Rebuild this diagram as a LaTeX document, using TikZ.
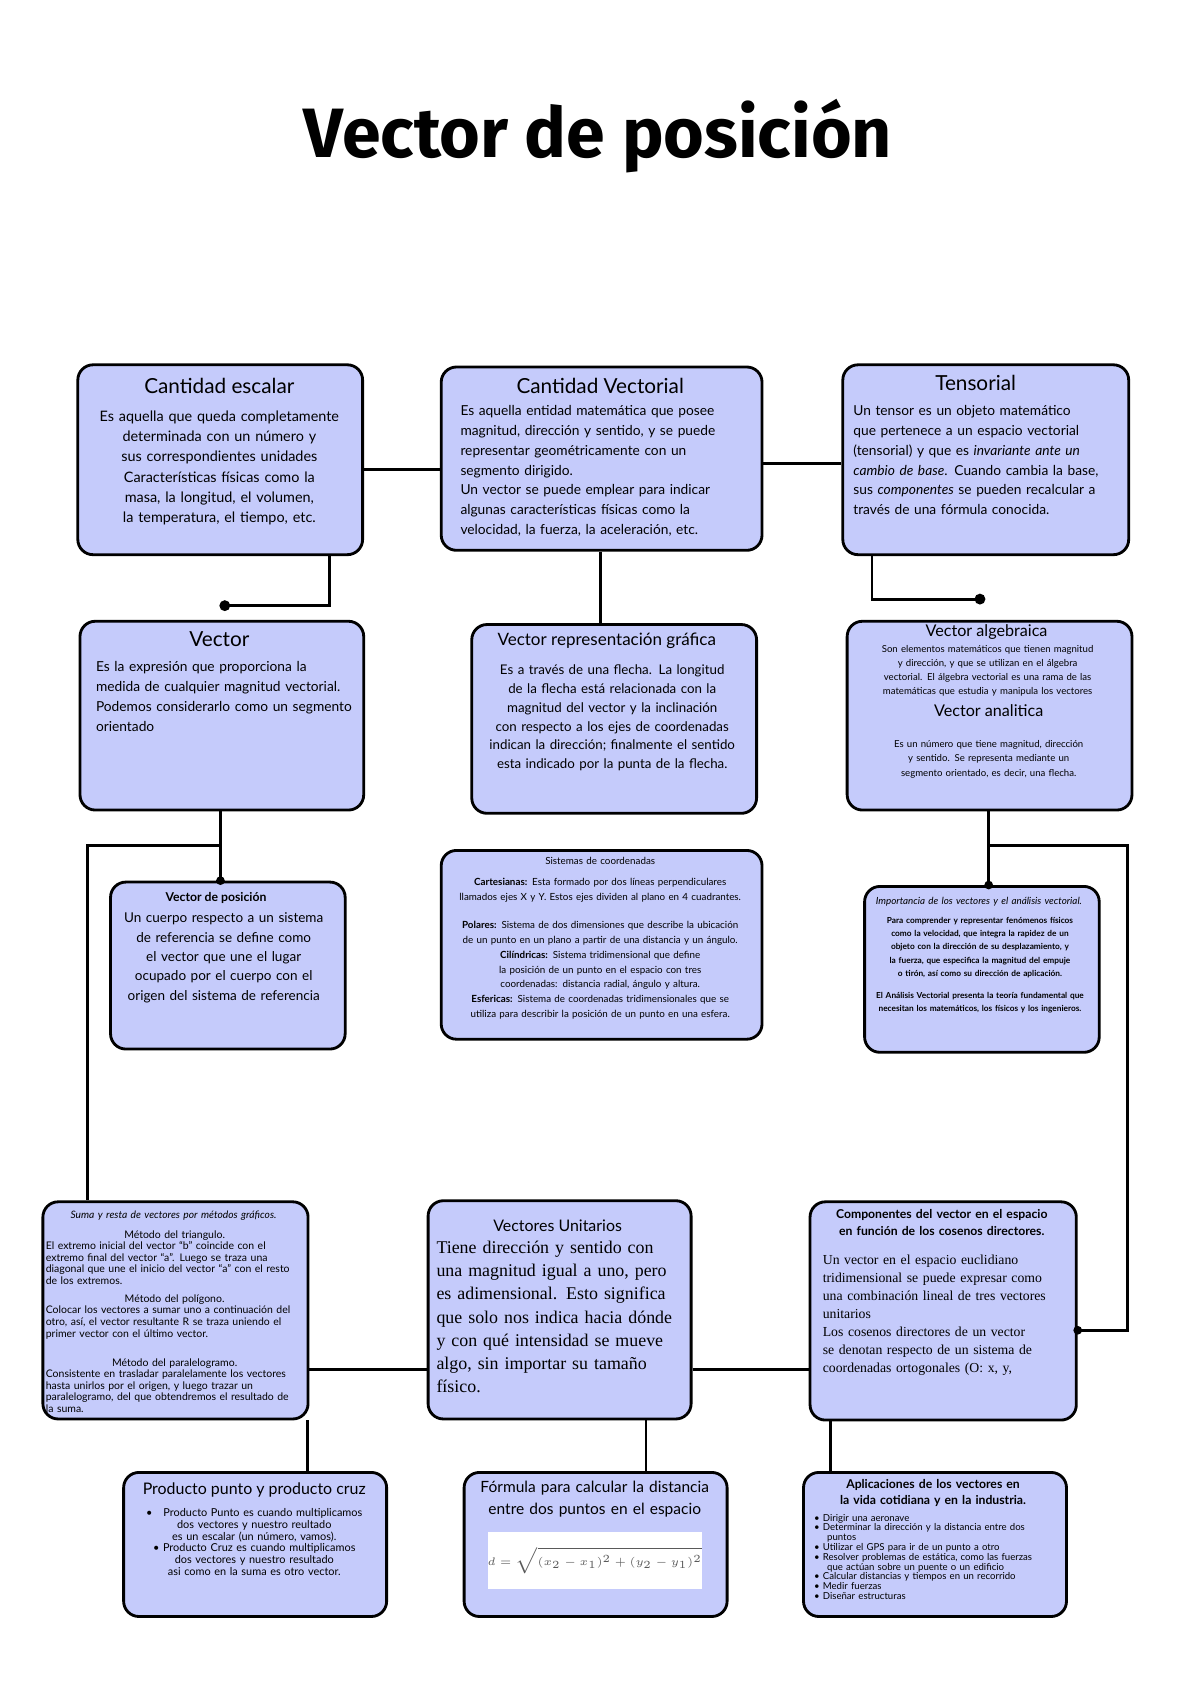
\documentclass[tikz,border=0pt]{standalone}
\usepackage{fontspec}
\setmainfont{Lato}
\newfontfamily\serifo{Liberation Serif}
\newfontfamily\titlef{Fira Sans}
\newcommand{\fs}[2]{\fontsize{#1}{#2}\selectfont}
\hyphenpenalty=10000
\exhyphenpenalty=10000
\begin{document}
\begin{tikzpicture}[x=0.5pt,y=-0.5pt,
  box/.style={draw=black,line width=1.3pt,rounded corners=7pt,fill=boxc,anchor=north west,inner sep=0pt},
  ln/.style={line width=1.3pt},
  dot/.style={circle,fill=black,inner sep=0pt,minimum size=5pt},
  tx/.style={anchor=north,align=center,inner sep=0pt}]
\definecolor{boxc}{HTML}{C5CBFB}
\useasboundingbox[fill=white] (0,0) rectangle (1100,1556);
\node[anchor=center] (title) at (548,125) {\titlef\bfseries\fs{32}{36}Vector de posición};
% boxes
\node[box,minimum width=130.5pt,minimum height=87pt] (esc) at (70,333) {};
\node[box,minimum width=147pt,minimum height=84pt] (vec) at (403,335) {};
\node[box,minimum width=131pt,minimum height=87pt] (ten) at (771,333) {};
\node[box,minimum width=130pt,minimum height=86.5pt] (vv) at (72,568) {};
\node[box,minimum width=130.5pt,minimum height=86.5pt] (rep) at (431,571) {};
\node[box,minimum width=130.5pt,minimum height=86.5pt] (alg) at (775,568) {};
\node[box,minimum width=107.5pt,minimum height=76.5pt] (pos) at (100,807) {};
\node[box,minimum width=147pt,minimum height=86.5pt] (sis) at (403,778) {};
\node[box,minimum width=107.5pt,minimum height=76pt] (imp) at (791,811) {};
\node[box,minimum width=121.5pt,minimum height=99.5pt] (sum) at (38,1100) {};
\node[box,minimum width=120.5pt,minimum height=100pt] (uni) at (391,1099) {};
\node[box,minimum width=122pt,minimum height=100pt] (com) at (741,1100) {};
\node[box,minimum width=120.5pt,minimum height=66pt] (pro) at (112,1348) {};
\node[box,minimum width=120.5pt,minimum height=66pt] (for) at (424,1348) {};
\node[box,minimum width=120.5pt,minimum height=66pt] (apl) at (735,1348) {};
% texts
\node[tx,font=\fs{9.5}{11}] (t1) at (201,346) {Cantidad escalar};
\node[tx,text width=121pt,font=\fs{6.6}{9.3}] (b1) at (201,376) {Es aquella que queda completamente determinada con un número y sus correspondientes unidades Características físicas como la masa, la longitud, el volumen, la temperatura, el tiempo, etc.};
\node[tx,font=\fs{9.5}{11}] (t2) at (550,346) {Cantidad Vectorial};
\node[tx,text width=128pt,align=left,font=\fs{6.3}{9.1}] (b2) at (550,371) {Es aquella entidad matemática que posee magnitud, dirección y sentido, y se puede representar geométricamente con un segmento dirigido.\\ Un vector se puede emplear para indicar algunas características físicas como la velocidad, la fuerza, la aceleración, etc.};
\node[tx,font=\fs{9.5}{11}] (t3) at (894,343) {Tensorial};
\node[tx,text width=118pt,align=left,font=\fs{6.3}{9.1}] (b3) at (900,371) {Un tensor es un objeto matemático que pertenece a un espacio vectorial (tensorial) y que es \textit{invariante ante un cambio de base}. Cuando cambia la base, sus \textit{componentes} se pueden recalcular a través de una fórmula conocida.};
\node[tx,font=\fs{9.5}{11}] (t4) at (201,578) {Vector};
\node[tx,text width=118pt,align=left,font=\fs{6.3}{9.1}] (b4) at (206,606) {Es la expresión que proporciona la medida de cualquier magnitud vectorial. Podemos considerarlo como un segmento orientado};
\node[tx,font=\fs{7.8}{9}] (t5) at (556,580) {Vector representación gráfica};
\node[tx,text width=115pt,font=\fs{6.1}{8.6}] (b5) at (561,609) {Es a través de una flecha. La longitud de la flecha está relacionada con la magnitud del vector y la inclinación con respecto a los ejes de coordenadas indican la dirección; finalmente el sentido esta indicado por la punta de la flecha.};
\node[tx,font=\fs{7.4}{9}] (t6) at (904,572) {Vector algebraica};
\node[tx,text width=122pt,font=\fs{4.4}{6.4}] (b6) at (905,591) {Son elementos matemáticos que tienen magnitud y dirección, y que se utilizan en el álgebra vectorial. El álgebra vectorial es una rama de las matemáticas que estudia y manipula los vectores};
\node[tx,font=\fs{7.4}{9}] (t7) at (906,645) {Vector analitica};
\node[tx,text width=122pt,font=\fs{4.4}{6.6}] (b7) at (906,678) {Es un número que tiene magnitud, dirección y sentido. Se representa mediante un segmento orientado, es decir, una flecha.};
\node[tx,font=\fs{5.6}{7}\bfseries] (t8) at (198,817) {Vector de posición};
\node[tx,text width=96pt,font=\fs{6.2}{8.9}] (b8) at (205,836) {Un cuerpo respecto a un sistema de referencia se define como el vector que une el lugar ocupado por el cuerpo con el origen del sistema de referencia};
\node[tx,text width=140pt,font=\fs{4.5}{6.8}] (b9) at (550,785) {Sistemas de coordenadas\\[3pt]
\textbf{Cartesianas:} Esta formado por dos líneas perpendiculares llamados ejes X y Y. Estos ejes dividen al plano en 4 cuadrantes.\\[6pt]
\textbf{Polares:} Sistema de dos dimensiones que describe la ubicación de un punto en un plano a partir de una distancia y un ángulo.\\
\textbf{Cilíndricas:} Sistema tridimensional que define la posición de un punto en el espacio con tres coordenadas: distancia radial, ángulo y altura.\\
\textbf{Esfericas:} Sistema de coordenadas tridimensionales que se utiliza para describir la posición de un punto en una esfera.};
\node[tx,text width=105pt,font=\fs{4.5}{6.5}\itshape] (t10) at (897,822) {Importancia de los vectores y el análisis vectorial.};
\node[tx,text width=96pt,font=\fs{3.8}{6.1}\bfseries] (b10) at (898,840) {Para comprender y representar fenómenos físicos como la velocidad, que integra la rapidez de un objeto con la dirección de su desplazamiento, y la fuerza, que especifica la magnitud del empuje o tirón, así como su dirección de aplicación.\\[4pt]
El Análisis Vectorial presenta la teoría fundamental que necesitan los matemáticos, los físicos y los ingenieros.};
\node[tx,text width=118pt,font=\fs{4.7}{5.5}\itshape] (t11) at (159,1109) {Suma y resta de vectores por métodos gráficos.};
\node[tx,text width=118pt,align=left,font=\fs{4.8}{5.3}] (b11) at (160,1127) {\centerline{Método del triangulo.}
El extremo inicial del vector “b” coincide con el extremo final del vector “a”. Luego se traza una diagonal que une el inicio del vector “a” con el resto de los extremos.\\[3pt]
\centerline{Método del polígono.}
Colocar los vectores a sumar uno a continuación del otro, así, el vector resultante R se traza uniendo el primer vector con el último vector.\\[8pt]
\centerline{Método del paralelogramo.}
Consistente en trasladar paralelamente los vectores hasta unirlos por el origen, y luego trazar un paralelogramo, del que obtendremos el resultado de la suma.};
\node[tx,font=\fs{7.3}{9}] (t12) at (511,1117) {Vectores Unitarios};
\node[tx,text width=112pt,align=left,font=\serifo\fs{8.2}{10.6}] (b12) at (512,1137) {Tiene dirección y sentido con una magnitud igual a uno, pero es adimensional. Esto significa que solo nos indica hacia dónde y con qué intensidad se mueve algo, sin importar su tamaño físico.};
\node[tx,text width=116pt,font=\fs{5.6}{7.6}\bfseries] (t13) at (863,1108) {Componentes del vector en el espacio en función de los cosenos directores.};
\node[tx,text width=110pt,align=left,font=\serifo\fs{6.3}{8.2}] (b13) at (864,1150) {Un vector en el espacio euclidiano tridimensional se puede expresar como una combinación lineal de tres vectores unitarios\\ Los cosenos directores de un vector se denotan respecto de un sistema de coordenadas ortogonales (O: x, y,};
\node[tx,font=\fs{7.3}{9}] (t14) at (233,1358) {Producto punto y producto cruz};
\node[tx,text width=110pt,font=\fs{5}{5.4}] (b14) at (233,1382) {\textbullet\quad Producto Punto es cuando multiplicamos dos vectores y nuestro reultado es un escalar (un número, vamos).\\
\textbullet\ Producto Cruz es cuando multiplicamos dos vectores y nuestro resultado asi como en la suma es otro vector.};
\node[tx,text width=120pt,font=\fs{7.1}{10}] (t15) at (545,1357) {Fórmula para calcular la distancia entre dos puntos en el espacio};
\node[fill=white,minimum width=75pt,minimum height=26pt,inner sep=0pt] (fml) at (545,1430) {\serifo\fs{4}{5}\color{gray!70!black}$d=\sqrt{(x_2-x_1)^2+(y_2-y_1)^2}$};
\node[tx,text width=112pt,font=\fs{5.6}{7.6}\bfseries] (t16) at (855,1355) {Aplicaciones de los vectores en la vida cotidiana y en la industria.};
\node[tx,text width=112pt,align=left,font=\fs{4.4}{4.5}] (b16) at (858,1387) {\textbullet\ Dirigir una aeronave\\
\textbullet\ Determinar la dirección y la distancia entre dos\\\hspace*{6pt}puntos\\
\textbullet\ Utilizar el GPS para ir de un punto a otro\\
\textbullet\ Resolver problemas de estática, como las fuerzas\\\hspace*{6pt}que actúan sobre un puente o un edificio\\
\textbullet\ Calcular distancias y tiempos en un recorrido\\
\textbullet\ Medir fuerzas\\
\textbullet\ Diseñar estructuras};
% connectors
\draw[ln] (esc.east |- 0,430) -- (vec.west |- 0,430);
\draw[ln] (vec.east |- 0,425) -- (ten.west |- 0,425);
\coordinate (d1) at (206,555);
\draw[ln] (esc.south -| 302,0) |- (d1); \node[dot] at (d1) {};
\draw[ln] (vec.south -| 550,0) -- (rep.north -| 550,0);
\coordinate (d2) at (898,549);
\draw[ln] (ten.south -| 799,0) |- (d2); \node[dot] at (d2) {};
\coordinate (j1) at (202,775);
\draw[ln] (vv.south -| 202,0) -- (pos.north -| 202,0);
\node[dot,minimum size=4pt] at (pos.north -| 202,0) {};
\draw[ln] (j1) -| (sum.north -| 80,0);
\coordinate (j2) at (906,775);
\draw[ln] (alg.south -| 906,0) -- (imp.north -| 906,0);
\node[dot,minimum size=4pt] at (imp.north -| 906,0) {};
\draw[ln] (j2) -| (1033,1219) -- (com.east |- 0,1219);
\node[dot,minimum size=4pt] at (com.east |- 0,1219) {};
\draw[ln] (sum.east |- 0,1255) -- (uni.west |- 0,1255);
\draw[ln] (uni.east |- 0,1255) -- (com.west |- 0,1255);
\draw[ln] (sum.south -| 282,0) -- (pro.north -| 282,0);
\draw[ln] (uni.south -| 592,0) -- (for.north -| 592,0);
\draw[ln] (com.south -| 761,0) -- (apl.north -| 761,0);
\end{tikzpicture}
\end{document}
